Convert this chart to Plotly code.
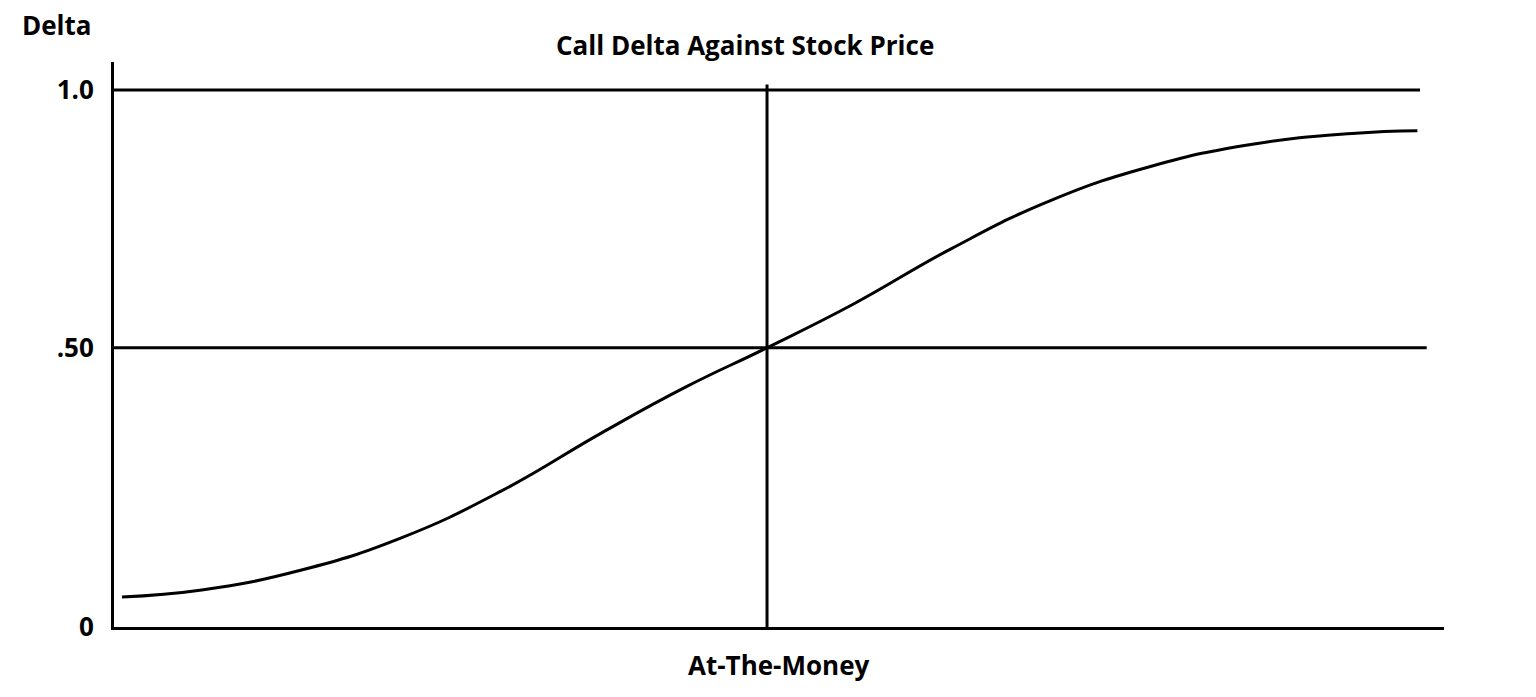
import plotly.graph_objects as go

# curve (x in 0..100 scale, delta in axis units)
price = [0.6, 6.6, 14.1, 21.6, 29.1, 36.7, 43.0, 49.1, 55.5, 63.0, 70.5, 78.0, 85.6, 93.1, 98.0]
delta = [0.056, 0.069, 0.106, 0.166, 0.253, 0.362, 0.447, 0.520, 0.600, 0.705, 0.795, 0.858, 0.899, 0.919, 0.924]

atm_x = 49.1
half_level = 0.520
top_level = 1.0
tick_vals = [0, half_level, top_level]
tick_text = ["0", ".50", "1.0"]

font = dict(family="Open Sans", size=26, color="black")

fig = go.Figure()
fig.add_trace(go.Scatter(x=price, y=delta, mode="lines", line=dict(color="black", width=3, shape="spline", smoothing=1.3),
                         showlegend=False, hoverinfo="skip"))

fig.add_shape(type="line", x0=0, x1=98.2, y0=top_level, y1=top_level, line=dict(color="black", width=3))
fig.add_shape(type="line", x0=0, x1=98.7, y0=half_level, y1=half_level, line=dict(color="black", width=3))
fig.add_shape(type="line", x0=atm_x, x1=atm_x, y0=0, y1=1.01, line=dict(color="black", width=3))

L, T, B = 106, 54, 78
fig.update_layout(
    width=1536, height=697,
    margin=dict(l=L, r=100, t=T, b=B),
    plot_bgcolor="white", paper_bgcolor="white",
    xaxis=dict(range=[0, 100], showgrid=False, zeroline=False, showline=True, linecolor="black",
               linewidth=3, showticklabels=False, ticks=""),
    yaxis=dict(range=[0, 1.052], showgrid=False, zeroline=False, showline=True, linecolor="black",
               linewidth=3, tickvals=tick_vals, ticktext=tick_text, ticks="",
               tickfont=dict(family="Open Sans", size=26, color="black", weight="bold"), ticklabelstandoff=12),
)
# text placed by pixel centre
labels = [("<b>Delta</b>", 55, 25), ("<b>Call Delta Against Stock Price</b>", 743, 45), ("<b>At-The-Money</b>", 777, 665)]
for text, px, py in labels:
    fig.add_annotation(text=text, xref="paper", yref="paper", showarrow=False, font=font,
                       xanchor="center", yanchor="middle",
                       x=(px - 6 - L) / 1330, y=(697 - B - (py - 8)) / 565)

fig.write_html("out.html")
